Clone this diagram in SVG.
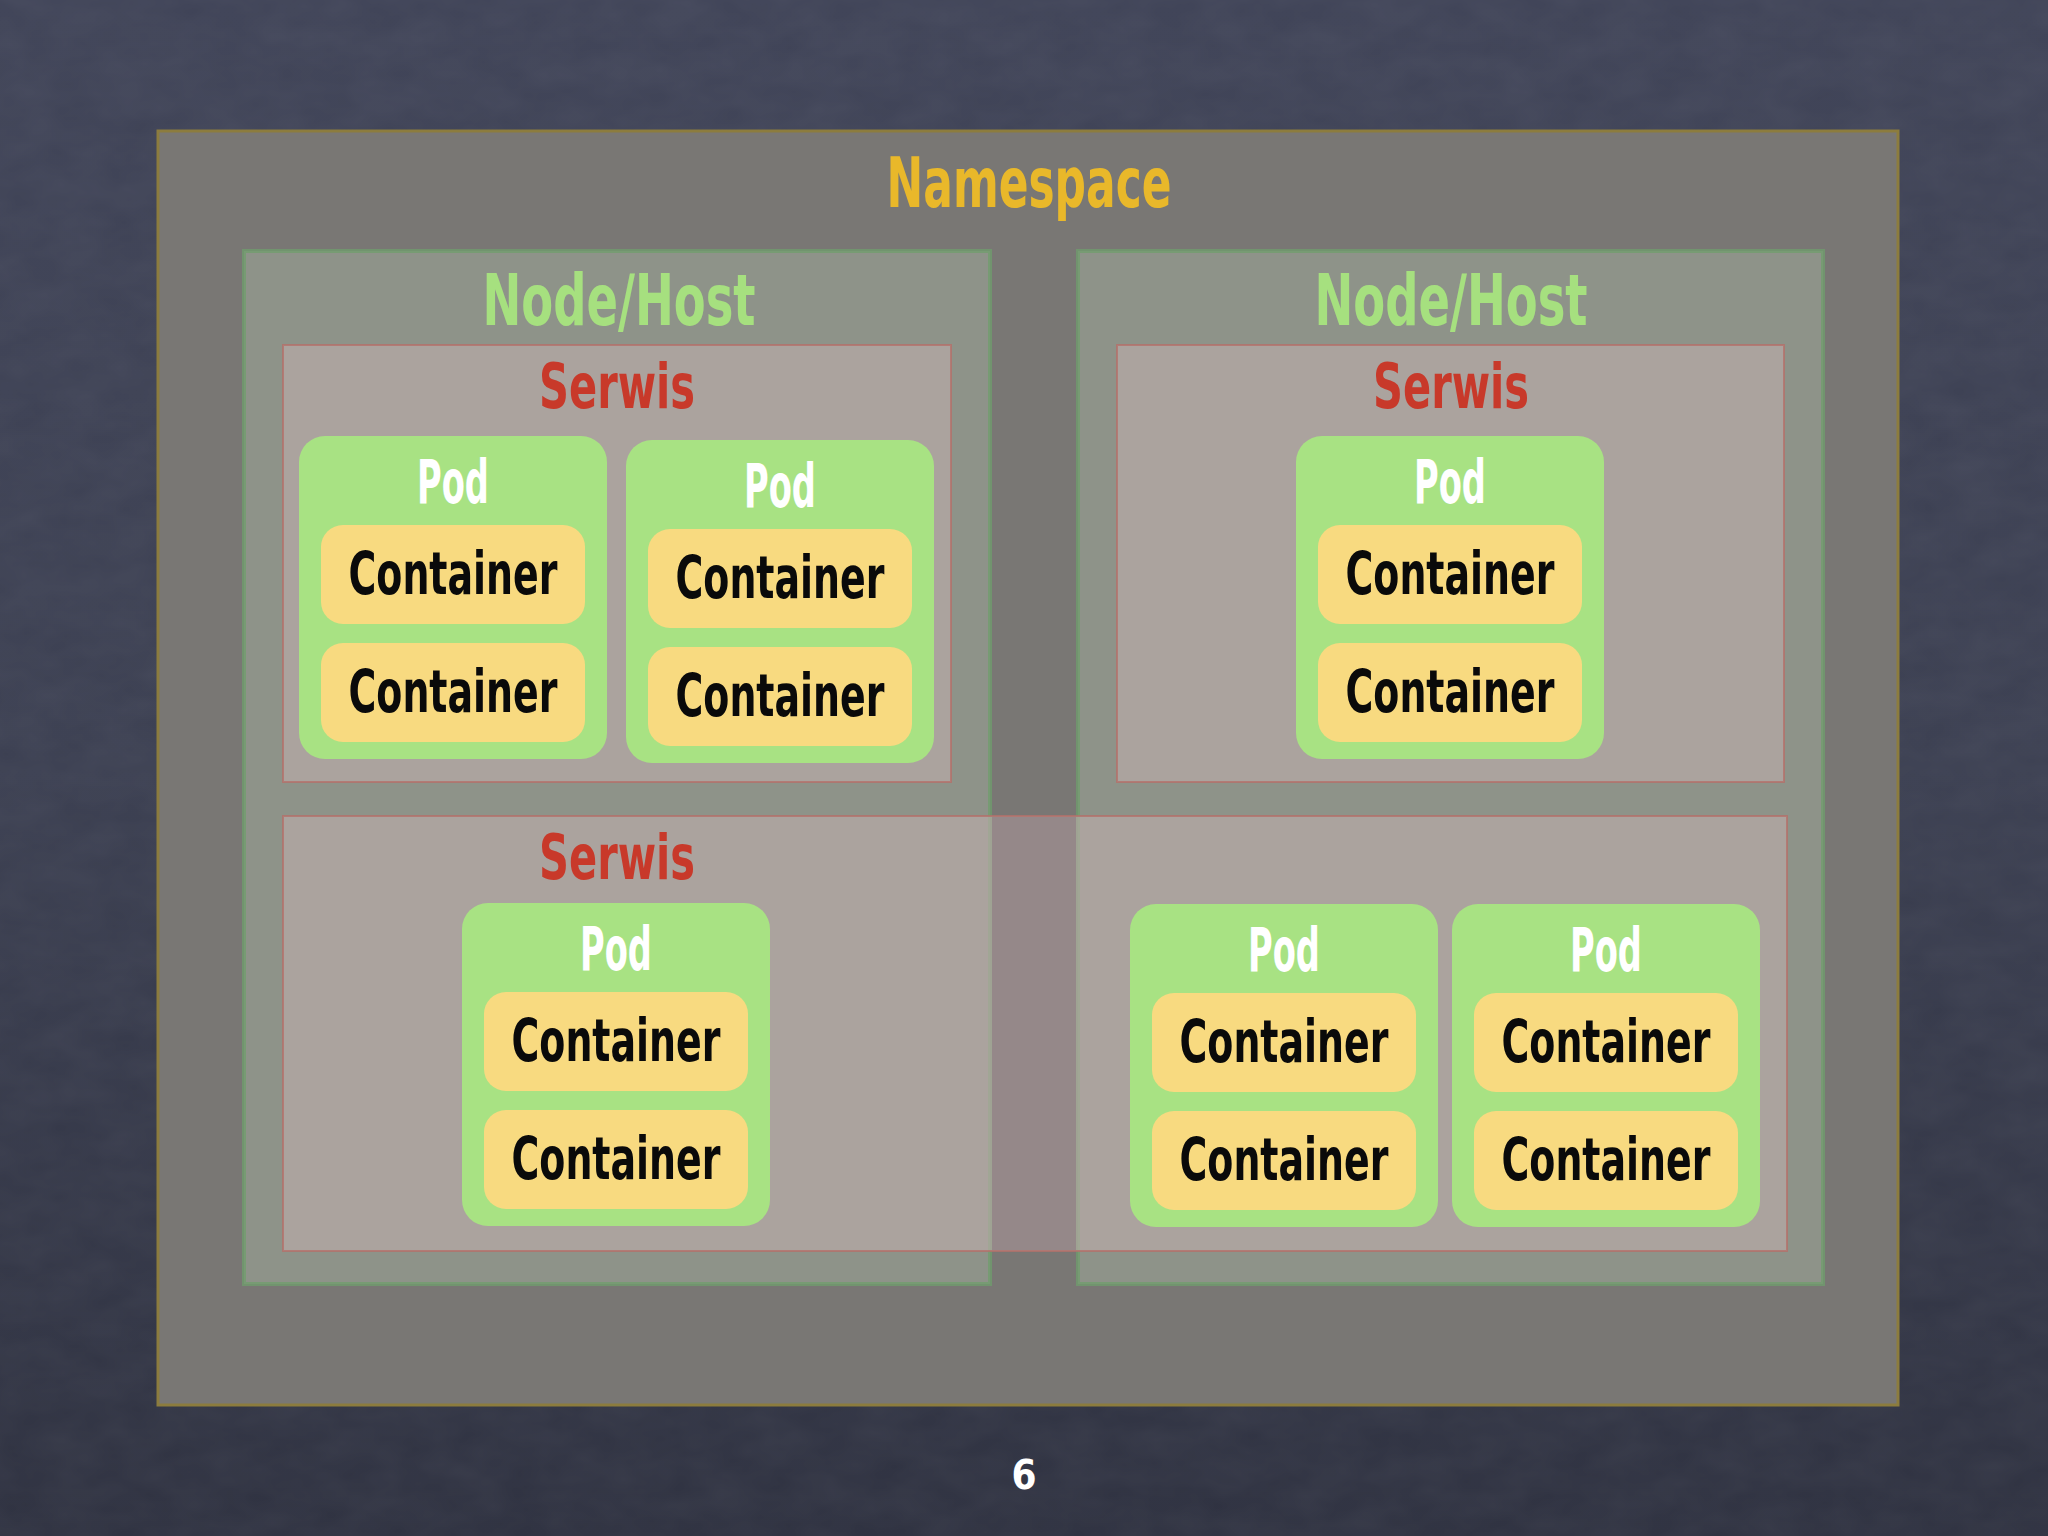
<svg xmlns="http://www.w3.org/2000/svg" width="2048" height="1536" viewBox="0 0 2048 1536">
<defs>
<linearGradient id="bg" x1="0" y1="0" x2="0" y2="1">
<stop offset="0" stop-color="#3f4357"/>
<stop offset="0.5" stop-color="#3b3f51"/>
<stop offset="1" stop-color="#2e3140"/>
</linearGradient>
<filter id="chalk" x="0" y="0" width="100%" height="100%">
<feTurbulence type="fractalNoise" baseFrequency="0.02 0.035" numOctaves="3" seed="7" result="n"/>
<feColorMatrix in="n" type="matrix" values="0 0 0 0 1  0 0 0 0 1  0 0 0 0 1  0 0 0 0.05 0"/>
</filter>
<style>
.ns{fill:#797774;stroke:#8c7c3e;stroke-width:3}
.node{fill:#afbea9;fill-opacity:0.4;stroke:#6f9e6c;stroke-opacity:0.75;stroke-width:4}
.svc{fill:#beaeab;fill-opacity:0.6;stroke:#b4706a;stroke-opacity:0.8;stroke-width:2}
.gap{fill:#64505a;fill-opacity:0.2}
.pod{fill:#a8e283}
.ctr{fill:#f8da80}
text{font-family:"DejaVu Sans Condensed","Liberation Sans Narrow","DejaVu Sans",sans-serif;font-stretch:condensed;text-anchor:middle}
.t-ns{fill:#e9b82a;font-size:70px;font-weight:bold}
.t-node{fill:#a6e07f;font-size:72px;font-weight:bold}
.t-svc{fill:#c8392a;font-size:62px;font-weight:bold}
.t-pod{fill:#ffffff;font-size:60px;font-weight:bold}
.t-ctr{fill:#0a0a0a;font-size:58px;font-weight:bold}
.t-page{fill:#ffffff;font-size:40px;font-weight:bold}
</style>
</defs>
<rect width="2048" height="1536" fill="url(#bg)"/>
<rect width="2048" height="1536" filter="url(#chalk)"/>

<g id="namespace">
<rect class="ns" x="158" y="131" width="1740" height="1274"/>
<text class="t-ns" x="1029" y="207" textLength="285" lengthAdjust="spacingAndGlyphs">Namespace</text>
</g>

<g id="node-left">
<rect class="node" x="244" y="251" width="746" height="1033"/>
<text class="t-node" x="619" y="325" textLength="273" lengthAdjust="spacingAndGlyphs">Node/Host</text>
</g>
<g id="node-right">
<rect class="node" x="1078" y="251" width="745" height="1033"/>
<text class="t-node" x="1451" y="325" textLength="273" lengthAdjust="spacingAndGlyphs">Node/Host</text>
</g>

<g id="serwis-top-left">
<rect class="svc" x="283" y="345" width="668" height="437"/>
<text class="t-svc" x="617" y="408" textLength="156" lengthAdjust="spacingAndGlyphs">Serwis</text>
</g>
<g id="serwis-top-right">
<rect class="svc" x="1117" y="345" width="667" height="437"/>
<text class="t-svc" x="1451" y="408" textLength="156" lengthAdjust="spacingAndGlyphs">Serwis</text>
</g>
<g id="serwis-bottom">
<rect class="svc" x="283" y="816" width="1504" height="435"/>
<rect class="gap" x="992" y="817" width="84" height="433"/>
<text class="t-svc" x="617" y="879" textLength="156" lengthAdjust="spacingAndGlyphs">Serwis</text>
</g>

<g id="pod-l1">
<rect class="pod" x="299" y="436" width="308" height="323" rx="26"/>
<text class="t-pod" x="453" y="503" textLength="72" lengthAdjust="spacingAndGlyphs">Pod</text>
<rect class="ctr" x="321" y="525" width="264" height="99" rx="22"/>
<text class="t-ctr" x="453" y="594" textLength="209" lengthAdjust="spacingAndGlyphs">Container</text>
<rect class="ctr" x="321" y="643" width="264" height="99" rx="22"/>
<text class="t-ctr" x="453" y="712" textLength="209" lengthAdjust="spacingAndGlyphs">Container</text>
</g>

<g id="pod-l2">
<rect class="pod" x="626" y="440" width="308" height="323" rx="26"/>
<text class="t-pod" x="780" y="507" textLength="72" lengthAdjust="spacingAndGlyphs">Pod</text>
<rect class="ctr" x="648" y="529" width="264" height="99" rx="22"/>
<text class="t-ctr" x="780" y="598" textLength="209" lengthAdjust="spacingAndGlyphs">Container</text>
<rect class="ctr" x="648" y="647" width="264" height="99" rx="22"/>
<text class="t-ctr" x="780" y="716" textLength="209" lengthAdjust="spacingAndGlyphs">Container</text>
</g>

<g id="pod-r1">
<rect class="pod" x="1296" y="436" width="308" height="323" rx="26"/>
<text class="t-pod" x="1450" y="503" textLength="72" lengthAdjust="spacingAndGlyphs">Pod</text>
<rect class="ctr" x="1318" y="525" width="264" height="99" rx="22"/>
<text class="t-ctr" x="1450" y="594" textLength="209" lengthAdjust="spacingAndGlyphs">Container</text>
<rect class="ctr" x="1318" y="643" width="264" height="99" rx="22"/>
<text class="t-ctr" x="1450" y="712" textLength="209" lengthAdjust="spacingAndGlyphs">Container</text>
</g>

<g id="pod-b1">
<rect class="pod" x="462" y="903" width="308" height="323" rx="26"/>
<text class="t-pod" x="616" y="970" textLength="72" lengthAdjust="spacingAndGlyphs">Pod</text>
<rect class="ctr" x="484" y="992" width="264" height="99" rx="22"/>
<text class="t-ctr" x="616" y="1061" textLength="209" lengthAdjust="spacingAndGlyphs">Container</text>
<rect class="ctr" x="484" y="1110" width="264" height="99" rx="22"/>
<text class="t-ctr" x="616" y="1179" textLength="209" lengthAdjust="spacingAndGlyphs">Container</text>
</g>

<g id="pod-b2">
<rect class="pod" x="1130" y="904" width="308" height="323" rx="26"/>
<text class="t-pod" x="1284" y="971" textLength="72" lengthAdjust="spacingAndGlyphs">Pod</text>
<rect class="ctr" x="1152" y="993" width="264" height="99" rx="22"/>
<text class="t-ctr" x="1284" y="1062" textLength="209" lengthAdjust="spacingAndGlyphs">Container</text>
<rect class="ctr" x="1152" y="1111" width="264" height="99" rx="22"/>
<text class="t-ctr" x="1284" y="1180" textLength="209" lengthAdjust="spacingAndGlyphs">Container</text>
</g>

<g id="pod-b3">
<rect class="pod" x="1452" y="904" width="308" height="323" rx="26"/>
<text class="t-pod" x="1606" y="971" textLength="72" lengthAdjust="spacingAndGlyphs">Pod</text>
<rect class="ctr" x="1474" y="993" width="264" height="99" rx="22"/>
<text class="t-ctr" x="1606" y="1062" textLength="209" lengthAdjust="spacingAndGlyphs">Container</text>
<rect class="ctr" x="1474" y="1111" width="264" height="99" rx="22"/>
<text class="t-ctr" x="1606" y="1180" textLength="209" lengthAdjust="spacingAndGlyphs">Container</text>
</g>

<g id="connectors"></g>

<text class="t-page" x="1024" y="1489">6</text>
</svg>
